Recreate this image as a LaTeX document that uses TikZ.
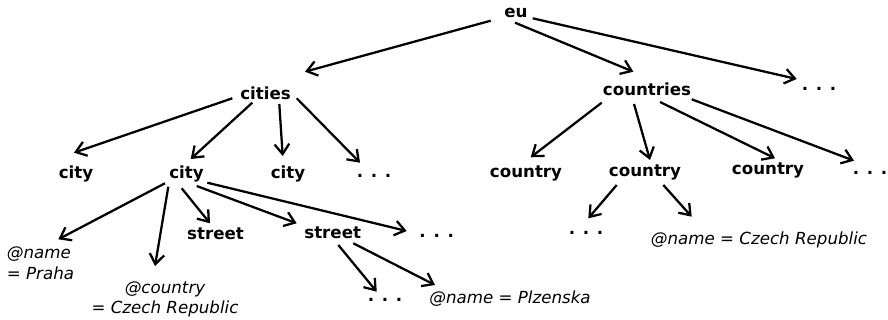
\documentclass[tikz,border=0pt]{standalone}
\usepackage{fontspec}
\setmainfont{DejaVu Sans}
\usetikzlibrary{arrows.meta,positioning}
\tikzset{
	tag/.style={
		font=\fontsize{12.5}{15}\selectfont\bfseries,
		inner sep=0pt
	},
	attr/.style={
		font=\fontsize{12.5}{15.5}\selectfont\itshape,
		inner sep=0pt
	},
	more/.style={
		font=\fontsize{12.5}{15}\selectfont\bfseries,
		inner sep=0pt
	},
	arrow/.style={
		draw=black,
		line width=1.7pt,
		-{Straight Barb[length=7.5pt,width=11pt]}
	},
}

\begin{document}
\begin{tikzpicture}[x=0.75pt,y=-0.75pt]
\useasboundingbox (0,0) rectangle (888,320);
% top level
\node[tag] (eu) at (516,12.5) {eu};
\node[tag] (cities) at (265.5,93) {cities};
\node[tag] (countries) at (647,89) {countries};
\node[more] (eumore) at (819,88.5) {. . .};
% cities
\node[tag] (city1) at (76,174) {city};
\node[tag] (city2) at (186.5,174) {city};
\node[tag] (city3) at (288,174) {city};
\node[more] (citiesmore) at (374,176) {. . .};
% countries
\node[tag] (country1) at (526,173.5) {country};
\node[tag] (country2) at (645,172.5) {country};
\node[tag] (country3) at (768,170.5) {country};
\node[more] (countriesmore) at (870,173) {. . .};
% children of city
\node[attr,align=left] (cityname) at (40.5,263.5) {@name\\= Praha};
\node[attr,align=center] (citycountry) at (165,299.5) {@country\\= Czech Republic};
\node[tag] (street1) at (215.5,234) {street};
\node[tag] (street2) at (332.7,232.5) {street};
\node[more] (citymore) at (436.7,236) {. . .};
% children of country
\node[more] (countrymore) at (586,233) {. . .};
\node[attr] (countryname) at (759,239.5) {@name = Czech Republic};
% children of street
\node[more] (streetmore) at (385,300) {. . .};
\node[attr] (streetname) at (510,298.5) {@name = Plzenska};

% eu
\draw[arrow] ([shift={(-25.3,8.2)}]eu.center) -- ([shift={(39.5,-21.3)}]cities.center);
\draw[arrow] ([shift={(-1,10.2)}]eu.center) -- ([shift={(-13.7,-17.3)}]countries.center);
\draw[arrow] ([shift={(16.7,5.8)}]eu.center) -- ([shift={(-22.3,-9.5)}]eumore.center);
% cities
\draw[arrow] ([shift={(-33.2,5.3)}]cities.center) -- ([shift={(-2,-21.3)}]city1.center);
\draw[arrow] ([shift={(-13.2,9.7)}]cities.center) -- ([shift={(4.2,-15)}]city2.center);
\draw[arrow] ([shift={(13.8,11)}]cities.center) -- ([shift={(-5.3,-18)}]city3.center);
\draw[arrow] ([shift={(31.2,5.3)}]cities.center) -- ([shift={(-14,-13.3)}]citiesmore.center);
% countries
\draw[arrow] ([shift={(-45.3,13.7)}]countries.center) -- ([shift={(4.7,-16.2)}]country1.center);
\draw[arrow] ([shift={(-13,15)}]countries.center) -- ([shift={(5,-12.5)}]country2.center);
\draw[arrow] ([shift={(13,13)}]countries.center) -- ([shift={(7,-12.2)}]country3.center);
\draw[arrow] ([shift={(44.7,10.3)}]countries.center) -- ([shift={(-16,-12.3)}]countriesmore.center);
% city
\draw[arrow] ([shift={(-21.5,9.3)}]city2.center) -- ([shift={(17.8,-24.2)}]cityname.center);
\draw[arrow] ([shift={(-18.2,12.7)}]city2.center) -- ([shift={(-10,-33.5)}]citycountry.center);
\draw[arrow] ([shift={(-4.8,14.3)}]city2.center) -- ([shift={(-5.5,-10.7)}]street1.center);
\draw[arrow] ([shift={(10.2,12)}]city2.center) -- ([shift={(-36,-9.2)}]street2.center);
\draw[arrow] ([shift={(20.8,8.7)}]city2.center) -- ([shift={(-30,-5)}]citymore.center);
% country
\draw[arrow] ([shift={(-28.3,12.5)}]country2.center) -- ([shift={(2.3,-14.7)}]countrymore.center);
\draw[arrow] ([shift={(18.3,12.5)}]country2.center) -- ([shift={(-67.3,-22.8)}]countryname.center);
% street
\draw[arrow] ([shift={(5.6,12.5)}]street2.center) -- ([shift={(-8.3,-8.3)}]streetmore.center);
\draw[arrow] ([shift={(20.6,10.8)}]street2.center) -- ([shift={(-75,-13.5)}]streetname.center);
\end{tikzpicture}
\end{document}
